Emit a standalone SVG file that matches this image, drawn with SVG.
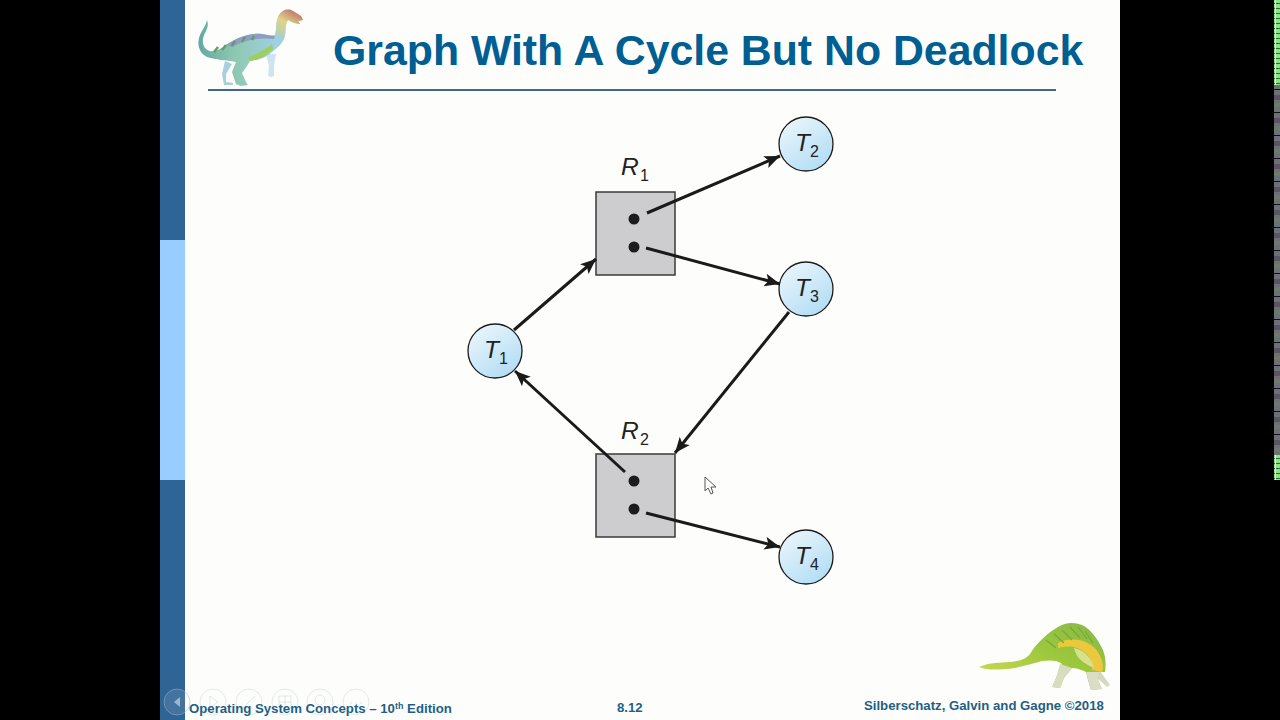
<svg xmlns="http://www.w3.org/2000/svg" width="1280" height="720" viewBox="0 0 1280 720">
<defs>
<marker id="arrow" markerUnits="userSpaceOnUse" markerWidth="18" markerHeight="14" refX="15.5" refY="7" orient="auto">
<path d="M0,0.5 L15.5,7 L0,13.5 L3.5,7 Z" fill="#1a1a1a"/>
</marker>
<linearGradient id="taskFill" x1="0.2" y1="0.1" x2="0.8" y2="0.95">
<stop offset="0" stop-color="#e6f4fb"/><stop offset="1" stop-color="#b2ddf5"/>
</linearGradient>
<linearGradient id="dinoBody" x1="0" y1="0" x2="1" y2="0">
<stop offset="0" stop-color="#62a8a4"/><stop offset="0.35" stop-color="#8fc8b0"/><stop offset="0.75" stop-color="#9fd0e6"/><stop offset="1" stop-color="#b8cf8c"/>
</linearGradient>
<linearGradient id="dinoHead" x1="0" y1="1" x2="0.6" y2="0">
<stop offset="0" stop-color="#a8cfc0"/><stop offset="0.55" stop-color="#e0d488"/><stop offset="1" stop-color="#c07a70"/>
</linearGradient>
<linearGradient id="dinoBack" x1="0" y1="1" x2="1" y2="0">
<stop offset="0" stop-color="#d8dc5c"/><stop offset="0.55" stop-color="#9cc83c"/><stop offset="1" stop-color="#86b848"/>
</linearGradient>
<pattern id="stripeGreen" width="6" height="5" patternUnits="userSpaceOnUse">
<rect width="6" height="5" fill="#8fe08a"/><rect y="3" width="6" height="1" fill="#2c6a30"/><rect x="3" width="1" height="5" fill="#d8f5d4"/>
</pattern>
<pattern id="stripeGrey" width="6" height="23" patternUnits="userSpaceOnUse">
<rect width="6" height="23" fill="#6d7076"/><rect y="3" width="6" height="5" fill="#5a5560"/><rect y="11" width="6" height="4" fill="#707a6c"/><rect y="20" width="6" height="1" fill="#111"/>
</pattern>
<filter id="soft" x="-5%" y="-5%" width="110%" height="110%"><feGaussianBlur stdDeviation="0.5"/></filter>
</defs>
<style>
.task{fill:url(#taskFill);stroke:#1c1c1c;stroke-width:1.3}
.res{fill:#cdcdd0;stroke:#3a3a3a;stroke-width:1.5}
.dot{fill:#1c1c1c}
.edge{fill:none;stroke:#1a1a1a;stroke-width:3;marker-end:url(#arrow)}
.lab{font-family:"Liberation Sans",Arial,sans-serif;font-style:italic;font-size:24.5px;fill:#222}
.sub{font-family:"Liberation Sans",Arial,sans-serif;font-size:16px;fill:#222}
.foot{font-family:"Liberation Sans",Arial,sans-serif;font-weight:bold;font-size:13.2px;fill:#1f5f86}
.ctl{fill:none;stroke:#8a9aa5;stroke-width:1;opacity:.22}
</style>
<rect width="1280" height="720" fill="#000"/>
<rect x="160" width="960" height="720" fill="#fdfefc"/>
<rect x="160" width="25" height="720" fill="#2f6496"/>
<rect x="160" y="240" width="25" height="240" fill="#99ccff"/>
<rect x="1274" y="0" width="6" height="85" fill="url(#stripeGreen)"/>
<rect x="1274" y="85" width="6" height="370" fill="url(#stripeGrey)"/>
<rect x="1274" y="455" width="6" height="25" fill="url(#stripeGreen)"/>

<g id="title">
<text x="333" y="65" font-family="'Liberation Sans',Arial,sans-serif" font-weight="bold" font-size="42.8px" fill="#005f92">Graph With A Cycle But No Deadlock</text>
<rect x="208" y="89" width="848" height="2" fill="#3d6a8c"/>
</g>

<g id="dino-top" filter="url(#soft)">
<path d="M225,61 L232,64 L226,74 L226,82 L233,83 L233,85 L224,85 L222,74 Z" fill="#a8cfe0"/>
<path d="M266,54 L276,54 L274,66 L274,76 L271,77 L268,76 L269,66 Z" fill="#cfe4ec"/>
<path d="M207,20 C209,25 207,29 205,33 C202,39 202,45 206,49 C212,54 219,50 226,45 C238,37 250,33 262,34 C268,35 272,36 275,35 C277,30 275,22 279,15 C282,10 288,8 293,11 L301,16 L303,20 L298,21 L300,24 L294,23 L288,20 C285,24 286,30 285,36 C283,44 277,48 272,52 C266,58 258,60 250,61 L247,66 L242,73 L246,82 L248,85 L241,86 L236,84 L232,72 L236,62 C226,60 216,60 207,57 C200,54 197,46 199,38 C201,31 206,26 207,20 Z" fill="url(#dinoBody)"/>
<path d="M275,35 C277,30 275,22 279,15 C282,10 288,8 293,11 L301,16 L303,20 L298,21 L300,24 L294,23 L288,20 C285,24 286,30 285,36 Z" fill="url(#dinoHead)"/>
<path d="M226,45 C238,37 250,33 262,34 C268,35 272,36 275,36 L274,39 C260,37 245,40 232,47 Z" fill="#8f9cc4"/>
<path d="M248,58 C256,54 265,50 272,44 L273,49 C266,56 258,60 250,61 Z" fill="#9fcf58"/>
<path d="M214,52 L218,47 M222,50 L226,45 M232,46 L235,41 M242,42 L245,37 M252,40 L254,36" stroke="#5f9f60" stroke-width="2.4" fill="none"/>
</g>

<g id="dino-bottom" filter="url(#soft)">
<path d="M1098,668 L1110,685 L1107,687 L1094,675 Z" fill="#d8d8c0"/>
<path d="M979,667 C990,662 1000,663 1010,662 C1020,661 1026,659 1030,654 C1036,644 1046,634 1058,627 C1066,622 1074,622 1082,625 C1092,630 1098,640 1103,650 C1106,658 1106,666 1105,672 L1100,672 L1098,680 L1102,689 L1091,690 L1088,680 L1086,672 C1082,670 1076,668 1072,668 L1064,678 L1060,688 L1052,687 L1056,678 L1062,664 C1058,660 1050,660 1042,661 C1030,664 1020,668 1006,669 C996,670 986,670 979,667 Z" fill="url(#dinoBack)"/>
<path d="M1058,643 C1072,636 1090,640 1098,652 C1103,660 1104,668 1102,672 L1092,670 C1094,660 1086,650 1074,647 C1068,646 1062,647 1058,648 Z" fill="#ecc83e"/>
<path d="M1074,648 C1084,650 1092,658 1094,668 C1084,664 1076,658 1074,648 Z" fill="#d8e08c"/>
<path d="M1060,664 L1072,668 L1064,678 L1060,688 L1052,687 L1056,678 Z" fill="#d8dcc0"/>
<path d="M1086,672 L1100,672 L1098,680 L1102,689 L1091,690 Z" fill="#dcdcc8"/>
<path d="M1046,640 L1056,648 M1054,634 L1064,643 M1062,630 L1072,640 M1070,627 L1080,638 M1078,627 L1087,639 M1085,631 L1093,643" stroke="#78a838" stroke-width="1.2" fill="none"/>
</g>

<g id="R1">
<rect class="res" x="596" y="192" width="79" height="83"/>
<circle class="dot" cx="634" cy="219" r="5.5"/>
<circle class="dot" cx="634" cy="247" r="5.5"/>
<text class="lab" x="621" y="175">R</text><text class="sub" x="640" y="181">1</text>
</g>
<g id="R2">
<rect class="res" x="596" y="454" width="79" height="83"/>
<circle class="dot" cx="634" cy="481" r="5.5"/>
<circle class="dot" cx="634" cy="509" r="5.5"/>
<text class="lab" x="621" y="439">R</text><text class="sub" x="640" y="445">2</text>
</g>
<g id="T1">
<circle class="task" cx="495" cy="351" r="27"/>
<text class="lab" x="484" y="358">T</text><text class="sub" x="499" y="364">1</text>
</g>
<g id="T2">
<circle class="task" cx="806" cy="144" r="27"/>
<text class="lab" x="795" y="151">T</text><text class="sub" x="810" y="157">2</text>
</g>
<g id="T3">
<circle class="task" cx="806" cy="289" r="27"/>
<text class="lab" x="795" y="296">T</text><text class="sub" x="810" y="302">3</text>
</g>
<g id="T4">
<circle class="task" cx="806" cy="557" r="27"/>
<text class="lab" x="795" y="564">T</text><text class="sub" x="810" y="570">4</text>
</g>

<g id="connectors">
<line class="edge" x1="514" y1="330" x2="596" y2="259"/>
<line class="edge" x1="647" y1="213" x2="780" y2="156"/>
<line class="edge" x1="646" y1="248" x2="780" y2="284"/>
<line class="edge" x1="789" y1="312" x2="675" y2="453"/>
<line class="edge" x1="625" y1="472" x2="515" y2="371"/>
<line class="edge" x1="646" y1="513" x2="780" y2="547"/>
</g>

<g id="cursor">
<path d="M705,477 L705,491 L708,488 L711,494 L713,493 L711,487 L716,487 Z" fill="#fff" stroke="#555" stroke-width="1"/>
</g>

<g id="controls">
<circle cx="177" cy="702" r="13" fill="#fff" fill-opacity=".1" stroke="#9fb6c6" stroke-opacity=".5"/>
<path d="M180,697 L174,702 L180,707 Z" fill="#9fb6c6"/>
<circle class="ctl" cx="213" cy="702" r="13"/><path class="ctl" d="M210,696 L218,702 L210,708 Z"/>
<circle class="ctl" cx="249" cy="702" r="13"/><path class="ctl" d="M243,708 L255,696"/>
<circle class="ctl" cx="285" cy="702" r="13"/><path class="ctl" d="M279,696 h12 v12 h-12 Z M285,696 v12 M279,702 h12"/>
<circle class="ctl" cx="320" cy="702" r="13"/><circle class="ctl" cx="320" cy="700" r="5"/>
<circle class="ctl" cx="356" cy="702" r="13"/><path class="ctl" d="M350,703 h2 M355,703 h2 M360,703 h2"/>
</g>

<g id="footer">
<text class="foot" x="189" y="713">Operating System Concepts – 10<tspan font-size="9" dy="-4">th</tspan><tspan dy="4"> Edition</tspan></text>
<text class="foot" x="617" y="712">8.12</text>
<text class="foot" x="864" y="710">Silberschatz, Galvin and Gagne ©2018</text>
</g>
</svg>
